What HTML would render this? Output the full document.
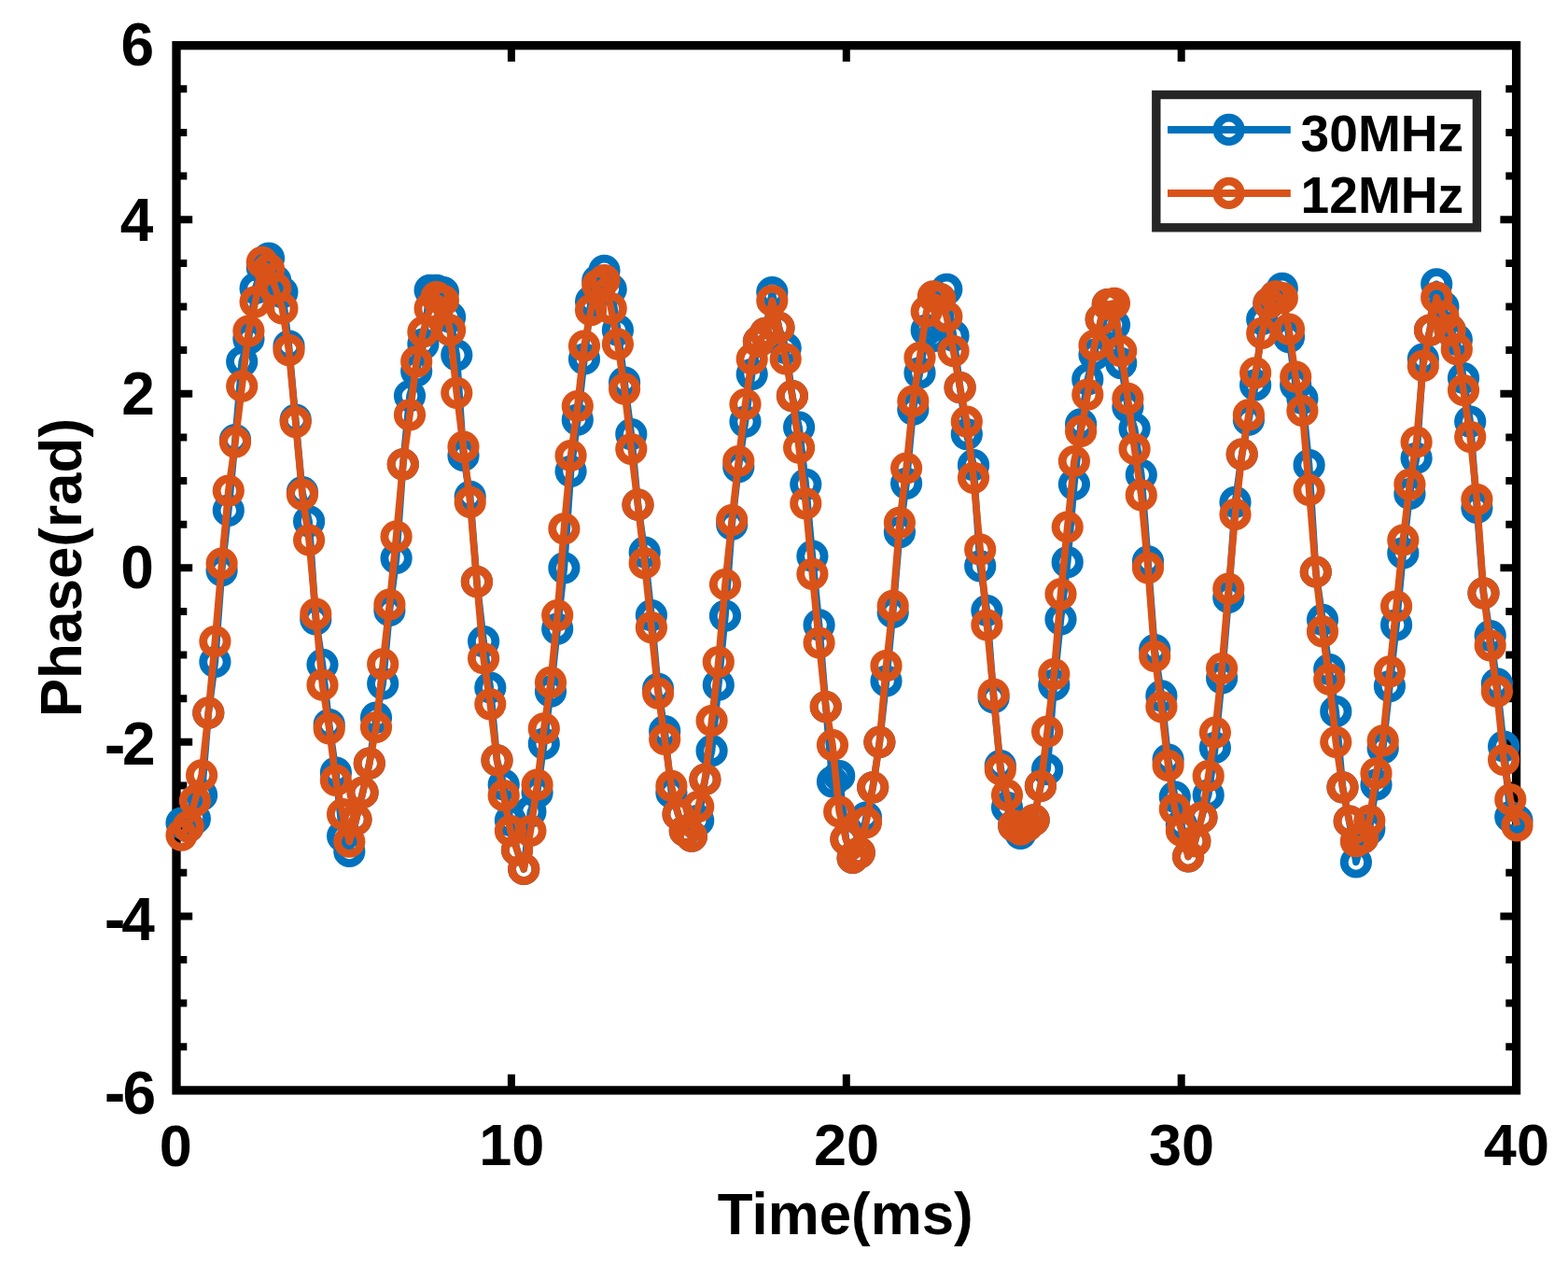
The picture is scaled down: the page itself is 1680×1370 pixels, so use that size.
<!DOCTYPE html>
<html lang="en"><head><meta charset="utf-8"><title>Phase vs Time</title>
<style>
html,body{margin:0;padding:0;background:#fff;}
body{width:1680px;height:1370px;overflow:hidden;}
svg{display:block;}
text{font-family:"Liberation Sans",sans-serif;font-weight:bold;fill:#000;}
.tk{font-size:64px;}
.hy{font-size:68px;}
.xt{font-size:63px;}
.lb{font-size:63px;}
.lg{font-size:56.3px;}
</style></head>
<body>
<svg width="1680" height="1370" viewBox="0 0 1680 1370">
<g>
<rect x="0" y="0" width="1680" height="1370" fill="#fff"/>
<g stroke="#000" fill="none" stroke-linecap="butt">
<rect x="189.0" y="48.7" width="1435.6" height="1119.2" stroke-width="9.3" stroke-linejoin="miter"/>
<path stroke-width="8.0" d="M189.0 1121.3h11.3M1624.6 1121.3h-11.3M189.0 1074.6h11.3M1624.6 1074.6h-11.3M189.0 1028.0h11.3M1624.6 1028.0h-11.3M189.0 981.4h17.2M1624.6 981.4h-17.2M189.0 934.7h11.3M1624.6 934.7h-11.3M189.0 888.1h11.3M1624.6 888.1h-11.3M189.0 841.5h11.3M1624.6 841.5h-11.3M189.0 794.8h17.2M1624.6 794.8h-17.2M189.0 748.2h11.3M1624.6 748.2h-11.3M189.0 701.6h11.3M1624.6 701.6h-11.3M189.0 654.9h11.3M1624.6 654.9h-11.3M189.0 608.3h17.2M1624.6 608.3h-17.2M189.0 561.7h11.3M1624.6 561.7h-11.3M189.0 515.0h11.3M1624.6 515.0h-11.3M189.0 468.4h11.3M1624.6 468.4h-11.3M189.0 421.8h17.2M1624.6 421.8h-17.2M189.0 375.1h11.3M1624.6 375.1h-11.3M189.0 328.5h11.3M1624.6 328.5h-11.3M189.0 281.9h11.3M1624.6 281.9h-11.3M189.0 235.2h17.2M1624.6 235.2h-17.2M189.0 188.6h11.3M1624.6 188.6h-11.3M189.0 142.0h11.3M1624.6 142.0h-11.3M189.0 95.3h11.3M1624.6 95.3h-11.3M547.9 1167.9v-17.2M547.9 48.7v17.2M906.8 1167.9v-17.2M906.8 48.7v17.2M1265.7 1167.9v-17.2M1265.7 48.7v17.2"/>
</g>
<g stroke="#0072BD" fill="none">
<polyline stroke-width="7.6" stroke-linejoin="round" points="194.5,881.6 201.7,885.3 208.9,876.9 216.1,851.7 223.3,763.6 230.4,709.0 237.6,611.1 244.8,546.7 252.0,471.2 259.2,387.3 266.4,363.0 273.6,308.9 280.8,286.5 288.0,276.7 295.2,300.5 302.4,313.1 309.5,370.5 316.7,449.7 323.9,527.2 331.1,558.4 338.3,663.3 345.5,711.8 352.7,776.2 359.9,827.5 367.1,895.6 374.3,911.9 381.5,877.8 388.6,848.9 395.8,817.7 403.0,768.7 410.2,732.3 417.4,654.0 424.6,598.0 431.8,497.3 439.0,424.1 446.2,397.5 453.4,368.6 460.6,310.8 467.7,310.8 474.9,313.1 482.1,339.7 489.3,380.3 496.5,488.0 503.7,531.8 510.9,623.2 518.1,687.1 525.3,736.5 532.5,814.4 539.7,840.5 546.9,878.8 554.0,910.5 561.2,931.0 568.4,869.4 575.6,848.9 582.8,796.7 590.0,740.7 597.2,673.6 604.4,608.3 611.6,504.8 618.8,449.7 626.0,384.5 633.1,322.9 640.3,300.5 647.5,289.8 654.7,309.8 661.9,353.7 669.1,409.6 676.3,465.1 683.5,540.7 690.7,591.5 697.9,659.1 705.1,737.9 712.2,783.2 719.4,848.9 726.6,872.2 733.8,890.0 741.0,895.6 748.2,878.8 755.4,834.9 762.6,804.2 769.8,733.7 777.0,659.6 784.2,561.7 791.3,500.1 798.5,451.6 805.7,400.8 812.9,365.8 820.1,356.9 827.3,313.1 834.5,350.9 841.7,372.8 848.9,424.1 856.1,457.7 863.3,518.8 870.4,595.7 877.6,669.4 884.8,757.1 892.0,837.3 899.2,831.2 906.4,898.8 913.6,918.9 920.8,913.3 928.0,875.5 935.2,843.3 942.4,794.8 949.5,729.5 956.7,655.9 963.9,570.1 971.1,517.8 978.3,438.6 985.5,399.4 992.7,353.7 999.9,360.2 1007.1,320.1 1014.3,309.8 1021.5,359.7 1028.6,415.2 1035.8,465.1 1043.0,498.2 1050.2,606.4 1057.4,654.0 1064.6,747.3 1071.8,820.0 1079.0,864.8 1086.2,884.4 1093.4,892.8 1100.6,884.4 1107.7,878.3 1114.9,841.9 1122.1,824.2 1129.3,733.7 1136.5,663.3 1143.7,602.2 1150.9,518.8 1158.1,454.4 1165.3,406.4 1172.5,379.8 1179.7,342.0 1186.8,326.2 1194.0,348.1 1201.2,389.1 1208.4,435.8 1215.6,459.1 1222.8,508.5 1230.0,601.3 1237.2,696.0 1244.4,745.4 1251.6,813.5 1258.8,853.6 1265.9,883.4 1273.1,917.5 1280.3,901.2 1287.5,875.5 1294.7,851.7 1301.9,800.9 1309.1,726.3 1316.3,640.0 1323.5,537.9 1330.7,486.6 1337.9,449.7 1345.1,412.4 1352.2,342.0 1359.4,324.8 1366.6,317.3 1373.8,308.9 1381.0,361.1 1388.2,412.4 1395.4,426.9 1402.6,498.2 1409.8,612.5 1417.0,663.8 1424.2,717.0 1431.3,762.2 1438.5,843.3 1445.7,879.7 1452.9,923.5 1460.1,897.4 1467.3,888.1 1474.5,840.5 1481.7,801.4 1488.9,735.1 1496.1,669.4 1503.3,592.4 1510.4,529.0 1517.6,490.8 1524.8,384.5 1532.0,353.7 1539.2,304.3 1546.4,328.5 1553.6,353.7 1560.8,363.9 1568.0,405.0 1575.2,451.6 1582.4,543.9 1589.5,635.3 1596.7,681.0 1603.9,732.3 1611.1,799.5 1618.3,875.0 1625.5,878.8"/>
<g stroke-width="8.8">
<circle cx="194.5" cy="881.6" r="12.7"/><circle cx="201.7" cy="885.3" r="12.7"/><circle cx="208.9" cy="876.9" r="12.7"/><circle cx="216.1" cy="851.7" r="12.7"/><circle cx="223.3" cy="763.6" r="12.7"/><circle cx="230.4" cy="709.0" r="12.7"/><circle cx="237.6" cy="611.1" r="12.7"/><circle cx="244.8" cy="546.7" r="12.7"/><circle cx="252.0" cy="471.2" r="12.7"/><circle cx="259.2" cy="387.3" r="12.7"/><circle cx="266.4" cy="363.0" r="12.7"/><circle cx="273.6" cy="308.9" r="12.7"/><circle cx="280.8" cy="286.5" r="12.7"/><circle cx="288.0" cy="276.7" r="12.7"/><circle cx="295.2" cy="300.5" r="12.7"/><circle cx="302.4" cy="313.1" r="12.7"/><circle cx="309.5" cy="370.5" r="12.7"/><circle cx="316.7" cy="449.7" r="12.7"/><circle cx="323.9" cy="527.2" r="12.7"/><circle cx="331.1" cy="558.4" r="12.7"/><circle cx="338.3" cy="663.3" r="12.7"/><circle cx="345.5" cy="711.8" r="12.7"/><circle cx="352.7" cy="776.2" r="12.7"/><circle cx="359.9" cy="827.5" r="12.7"/><circle cx="367.1" cy="895.6" r="12.7"/><circle cx="374.3" cy="911.9" r="12.7"/><circle cx="381.5" cy="877.8" r="12.7"/><circle cx="388.6" cy="848.9" r="12.7"/><circle cx="395.8" cy="817.7" r="12.7"/><circle cx="403.0" cy="768.7" r="12.7"/><circle cx="410.2" cy="732.3" r="12.7"/><circle cx="417.4" cy="654.0" r="12.7"/><circle cx="424.6" cy="598.0" r="12.7"/><circle cx="431.8" cy="497.3" r="12.7"/><circle cx="439.0" cy="424.1" r="12.7"/><circle cx="446.2" cy="397.5" r="12.7"/><circle cx="453.4" cy="368.6" r="12.7"/><circle cx="460.6" cy="310.8" r="12.7"/><circle cx="467.7" cy="310.8" r="12.7"/><circle cx="474.9" cy="313.1" r="12.7"/><circle cx="482.1" cy="339.7" r="12.7"/><circle cx="489.3" cy="380.3" r="12.7"/><circle cx="496.5" cy="488.0" r="12.7"/><circle cx="503.7" cy="531.8" r="12.7"/><circle cx="510.9" cy="623.2" r="12.7"/><circle cx="518.1" cy="687.1" r="12.7"/><circle cx="525.3" cy="736.5" r="12.7"/><circle cx="532.5" cy="814.4" r="12.7"/><circle cx="539.7" cy="840.5" r="12.7"/><circle cx="546.9" cy="878.8" r="12.7"/><circle cx="554.0" cy="910.5" r="12.7"/><circle cx="561.2" cy="931.0" r="12.7"/><circle cx="568.4" cy="869.4" r="12.7"/><circle cx="575.6" cy="848.9" r="12.7"/><circle cx="582.8" cy="796.7" r="12.7"/><circle cx="590.0" cy="740.7" r="12.7"/><circle cx="597.2" cy="673.6" r="12.7"/><circle cx="604.4" cy="608.3" r="12.7"/><circle cx="611.6" cy="504.8" r="12.7"/><circle cx="618.8" cy="449.7" r="12.7"/><circle cx="626.0" cy="384.5" r="12.7"/><circle cx="633.1" cy="322.9" r="12.7"/><circle cx="640.3" cy="300.5" r="12.7"/><circle cx="647.5" cy="289.8" r="12.7"/><circle cx="654.7" cy="309.8" r="12.7"/><circle cx="661.9" cy="353.7" r="12.7"/><circle cx="669.1" cy="409.6" r="12.7"/><circle cx="676.3" cy="465.1" r="12.7"/><circle cx="683.5" cy="540.7" r="12.7"/><circle cx="690.7" cy="591.5" r="12.7"/><circle cx="697.9" cy="659.1" r="12.7"/><circle cx="705.1" cy="737.9" r="12.7"/><circle cx="712.2" cy="783.2" r="12.7"/><circle cx="719.4" cy="848.9" r="12.7"/><circle cx="726.6" cy="872.2" r="12.7"/><circle cx="733.8" cy="890.0" r="12.7"/><circle cx="741.0" cy="895.6" r="12.7"/><circle cx="748.2" cy="878.8" r="12.7"/><circle cx="755.4" cy="834.9" r="12.7"/><circle cx="762.6" cy="804.2" r="12.7"/><circle cx="769.8" cy="733.7" r="12.7"/><circle cx="777.0" cy="659.6" r="12.7"/><circle cx="784.2" cy="561.7" r="12.7"/><circle cx="791.3" cy="500.1" r="12.7"/><circle cx="798.5" cy="451.6" r="12.7"/><circle cx="805.7" cy="400.8" r="12.7"/><circle cx="812.9" cy="365.8" r="12.7"/><circle cx="820.1" cy="356.9" r="12.7"/><circle cx="827.3" cy="313.1" r="12.7"/><circle cx="834.5" cy="350.9" r="12.7"/><circle cx="841.7" cy="372.8" r="12.7"/><circle cx="848.9" cy="424.1" r="12.7"/><circle cx="856.1" cy="457.7" r="12.7"/><circle cx="863.3" cy="518.8" r="12.7"/><circle cx="870.4" cy="595.7" r="12.7"/><circle cx="877.6" cy="669.4" r="12.7"/><circle cx="884.8" cy="757.1" r="12.7"/><circle cx="892.0" cy="837.3" r="12.7"/><circle cx="899.2" cy="831.2" r="12.7"/><circle cx="906.4" cy="898.8" r="12.7"/><circle cx="913.6" cy="918.9" r="12.7"/><circle cx="920.8" cy="913.3" r="12.7"/><circle cx="928.0" cy="875.5" r="12.7"/><circle cx="935.2" cy="843.3" r="12.7"/><circle cx="942.4" cy="794.8" r="12.7"/><circle cx="949.5" cy="729.5" r="12.7"/><circle cx="956.7" cy="655.9" r="12.7"/><circle cx="963.9" cy="570.1" r="12.7"/><circle cx="971.1" cy="517.8" r="12.7"/><circle cx="978.3" cy="438.6" r="12.7"/><circle cx="985.5" cy="399.4" r="12.7"/><circle cx="992.7" cy="353.7" r="12.7"/><circle cx="999.9" cy="360.2" r="12.7"/><circle cx="1007.1" cy="320.1" r="12.7"/><circle cx="1014.3" cy="309.8" r="12.7"/><circle cx="1021.5" cy="359.7" r="12.7"/><circle cx="1028.6" cy="415.2" r="12.7"/><circle cx="1035.8" cy="465.1" r="12.7"/><circle cx="1043.0" cy="498.2" r="12.7"/><circle cx="1050.2" cy="606.4" r="12.7"/><circle cx="1057.4" cy="654.0" r="12.7"/><circle cx="1064.6" cy="747.3" r="12.7"/><circle cx="1071.8" cy="820.0" r="12.7"/><circle cx="1079.0" cy="864.8" r="12.7"/><circle cx="1086.2" cy="884.4" r="12.7"/><circle cx="1093.4" cy="892.8" r="12.7"/><circle cx="1100.6" cy="884.4" r="12.7"/><circle cx="1107.7" cy="878.3" r="12.7"/><circle cx="1114.9" cy="841.9" r="12.7"/><circle cx="1122.1" cy="824.2" r="12.7"/><circle cx="1129.3" cy="733.7" r="12.7"/><circle cx="1136.5" cy="663.3" r="12.7"/><circle cx="1143.7" cy="602.2" r="12.7"/><circle cx="1150.9" cy="518.8" r="12.7"/><circle cx="1158.1" cy="454.4" r="12.7"/><circle cx="1165.3" cy="406.4" r="12.7"/><circle cx="1172.5" cy="379.8" r="12.7"/><circle cx="1179.7" cy="342.0" r="12.7"/><circle cx="1186.8" cy="326.2" r="12.7"/><circle cx="1194.0" cy="348.1" r="12.7"/><circle cx="1201.2" cy="389.1" r="12.7"/><circle cx="1208.4" cy="435.8" r="12.7"/><circle cx="1215.6" cy="459.1" r="12.7"/><circle cx="1222.8" cy="508.5" r="12.7"/><circle cx="1230.0" cy="601.3" r="12.7"/><circle cx="1237.2" cy="696.0" r="12.7"/><circle cx="1244.4" cy="745.4" r="12.7"/><circle cx="1251.6" cy="813.5" r="12.7"/><circle cx="1258.8" cy="853.6" r="12.7"/><circle cx="1265.9" cy="883.4" r="12.7"/><circle cx="1273.1" cy="917.5" r="12.7"/><circle cx="1280.3" cy="901.2" r="12.7"/><circle cx="1287.5" cy="875.5" r="12.7"/><circle cx="1294.7" cy="851.7" r="12.7"/><circle cx="1301.9" cy="800.9" r="12.7"/><circle cx="1309.1" cy="726.3" r="12.7"/><circle cx="1316.3" cy="640.0" r="12.7"/><circle cx="1323.5" cy="537.9" r="12.7"/><circle cx="1330.7" cy="486.6" r="12.7"/><circle cx="1337.9" cy="449.7" r="12.7"/><circle cx="1345.1" cy="412.4" r="12.7"/><circle cx="1352.2" cy="342.0" r="12.7"/><circle cx="1359.4" cy="324.8" r="12.7"/><circle cx="1366.6" cy="317.3" r="12.7"/><circle cx="1373.8" cy="308.9" r="12.7"/><circle cx="1381.0" cy="361.1" r="12.7"/><circle cx="1388.2" cy="412.4" r="12.7"/><circle cx="1395.4" cy="426.9" r="12.7"/><circle cx="1402.6" cy="498.2" r="12.7"/><circle cx="1409.8" cy="612.5" r="12.7"/><circle cx="1417.0" cy="663.8" r="12.7"/><circle cx="1424.2" cy="717.0" r="12.7"/><circle cx="1431.3" cy="762.2" r="12.7"/><circle cx="1438.5" cy="843.3" r="12.7"/><circle cx="1445.7" cy="879.7" r="12.7"/><circle cx="1452.9" cy="923.5" r="12.7"/><circle cx="1460.1" cy="897.4" r="12.7"/><circle cx="1467.3" cy="888.1" r="12.7"/><circle cx="1474.5" cy="840.5" r="12.7"/><circle cx="1481.7" cy="801.4" r="12.7"/><circle cx="1488.9" cy="735.1" r="12.7"/><circle cx="1496.1" cy="669.4" r="12.7"/><circle cx="1503.3" cy="592.4" r="12.7"/><circle cx="1510.4" cy="529.0" r="12.7"/><circle cx="1517.6" cy="490.8" r="12.7"/><circle cx="1524.8" cy="384.5" r="12.7"/><circle cx="1532.0" cy="353.7" r="12.7"/><circle cx="1539.2" cy="304.3" r="12.7"/><circle cx="1546.4" cy="328.5" r="12.7"/><circle cx="1553.6" cy="353.7" r="12.7"/><circle cx="1560.8" cy="363.9" r="12.7"/><circle cx="1568.0" cy="405.0" r="12.7"/><circle cx="1575.2" cy="451.6" r="12.7"/><circle cx="1582.4" cy="543.9" r="12.7"/><circle cx="1589.5" cy="635.3" r="12.7"/><circle cx="1596.7" cy="681.0" r="12.7"/><circle cx="1603.9" cy="732.3" r="12.7"/><circle cx="1611.1" cy="799.5" r="12.7"/><circle cx="1618.3" cy="875.0" r="12.7"/><circle cx="1625.5" cy="878.8" r="12.7"/>
</g></g>
<g stroke="#D95319" fill="none">
<polyline stroke-width="7.6" stroke-linejoin="round" points="194.5,894.6 201.7,885.3 208.9,857.8 216.1,830.3 223.3,763.6 230.4,687.1 237.6,603.6 244.8,525.6 252.0,473.6 259.2,413.7 266.4,354.6 273.6,323.3 280.8,280.9 288.0,288.4 295.2,308.9 302.4,330.4 309.5,375.1 316.7,452.1 323.9,529.7 331.1,578.5 338.3,657.7 345.5,733.7 352.7,780.4 359.9,835.9 367.1,872.2 374.3,901.6 381.5,877.8 388.6,848.9 395.8,817.7 403.0,779.0 410.2,711.4 417.4,647.5 424.6,574.7 431.8,497.3 439.0,444.4 446.2,387.3 453.4,355.5 460.6,330.4 467.7,318.2 474.9,322.0 482.1,353.7 489.3,420.8 496.5,478.7 503.7,537.9 510.9,623.2 518.1,705.3 525.3,754.3 532.5,814.4 539.7,852.2 546.9,890.0 554.0,910.5 561.2,931.0 568.4,890.0 575.6,840.5 582.8,780.4 590.0,730.9 597.2,659.1 604.4,566.3 611.6,488.0 618.8,435.0 626.0,370.5 633.1,332.2 640.3,305.6 647.5,300.1 654.7,330.4 661.9,368.6 669.1,416.6 676.3,481.0 683.5,540.7 690.7,603.2 697.9,672.2 705.1,742.6 712.2,792.0 719.4,841.9 726.6,872.2 733.8,890.0 741.0,895.6 748.2,863.9 755.4,834.9 762.6,772.0 769.8,709.0 777.0,626.0 784.2,557.0 791.3,494.0 798.5,433.0 805.7,384.5 812.9,365.8 820.1,356.9 827.3,322.0 834.5,350.9 841.7,384.5 848.9,424.1 856.1,479.6 863.3,539.3 870.4,614.8 877.6,688.5 884.8,757.1 892.0,798.1 899.2,869.4 906.4,898.8 913.6,918.9 920.8,913.3 928.0,881.1 935.2,843.3 942.4,794.8 949.5,713.2 956.7,648.9 963.9,559.8 971.1,501.5 978.3,429.7 985.5,383.1 992.7,333.6 999.9,317.3 1007.1,320.1 1014.3,339.2 1021.5,376.1 1028.6,415.2 1035.8,451.6 1043.0,511.8 1050.2,588.7 1057.4,669.4 1064.6,743.5 1071.8,824.2 1079.0,851.7 1086.2,884.4 1093.4,888.6 1100.6,884.4 1107.7,878.3 1114.9,841.9 1122.1,783.6 1129.3,722.1 1136.5,636.3 1143.7,564.5 1150.9,494.0 1158.1,461.9 1165.3,422.7 1172.5,370.0 1179.7,342.0 1186.8,326.2 1194.0,324.8 1201.2,376.1 1208.4,426.9 1215.6,481.0 1222.8,530.4 1230.0,608.3 1237.2,703.0 1244.4,757.1 1251.6,820.0 1258.8,866.6 1265.9,890.0 1273.1,917.5 1280.3,901.2 1287.5,875.5 1294.7,831.2 1301.9,784.6 1309.1,716.0 1316.3,630.7 1323.5,550.9 1330.7,486.6 1337.9,444.4 1345.1,399.4 1352.2,356.9 1359.4,324.8 1366.6,317.3 1373.8,319.2 1381.0,352.7 1388.2,403.6 1395.4,440.0 1402.6,524.8 1409.8,612.5 1417.0,676.4 1424.2,727.7 1431.3,794.8 1438.5,843.3 1445.7,879.7 1452.9,901.2 1460.1,897.4 1467.3,878.8 1474.5,828.4 1481.7,793.4 1488.9,719.3 1496.1,649.3 1503.3,578.5 1510.4,518.8 1517.6,473.5 1524.8,391.9 1532.0,353.7 1539.2,318.7 1546.4,339.2 1553.6,353.7 1560.8,374.2 1568.0,418.0 1575.2,467.9 1582.4,535.1 1589.5,635.3 1596.7,691.3 1603.9,740.7 1611.1,814.0 1618.3,856.4 1625.5,884.4"/>
<g stroke-width="8.8">
<circle cx="194.5" cy="894.6" r="12.7"/><circle cx="201.7" cy="885.3" r="12.7"/><circle cx="208.9" cy="857.8" r="12.7"/><circle cx="216.1" cy="830.3" r="12.7"/><circle cx="223.3" cy="763.6" r="12.7"/><circle cx="230.4" cy="687.1" r="12.7"/><circle cx="237.6" cy="603.6" r="12.7"/><circle cx="244.8" cy="525.6" r="12.7"/><circle cx="252.0" cy="473.6" r="12.7"/><circle cx="259.2" cy="413.7" r="12.7"/><circle cx="266.4" cy="354.6" r="12.7"/><circle cx="273.6" cy="323.3" r="12.7"/><circle cx="280.8" cy="280.9" r="12.7"/><circle cx="288.0" cy="288.4" r="12.7"/><circle cx="295.2" cy="308.9" r="12.7"/><circle cx="302.4" cy="330.4" r="12.7"/><circle cx="309.5" cy="375.1" r="12.7"/><circle cx="316.7" cy="452.1" r="12.7"/><circle cx="323.9" cy="529.7" r="12.7"/><circle cx="331.1" cy="578.5" r="12.7"/><circle cx="338.3" cy="657.7" r="12.7"/><circle cx="345.5" cy="733.7" r="12.7"/><circle cx="352.7" cy="780.4" r="12.7"/><circle cx="359.9" cy="835.9" r="12.7"/><circle cx="367.1" cy="872.2" r="12.7"/><circle cx="374.3" cy="901.6" r="12.7"/><circle cx="381.5" cy="877.8" r="12.7"/><circle cx="388.6" cy="848.9" r="12.7"/><circle cx="395.8" cy="817.7" r="12.7"/><circle cx="403.0" cy="779.0" r="12.7"/><circle cx="410.2" cy="711.4" r="12.7"/><circle cx="417.4" cy="647.5" r="12.7"/><circle cx="424.6" cy="574.7" r="12.7"/><circle cx="431.8" cy="497.3" r="12.7"/><circle cx="439.0" cy="444.4" r="12.7"/><circle cx="446.2" cy="387.3" r="12.7"/><circle cx="453.4" cy="355.5" r="12.7"/><circle cx="460.6" cy="330.4" r="12.7"/><circle cx="467.7" cy="318.2" r="12.7"/><circle cx="474.9" cy="322.0" r="12.7"/><circle cx="482.1" cy="353.7" r="12.7"/><circle cx="489.3" cy="420.8" r="12.7"/><circle cx="496.5" cy="478.7" r="12.7"/><circle cx="503.7" cy="537.9" r="12.7"/><circle cx="510.9" cy="623.2" r="12.7"/><circle cx="518.1" cy="705.3" r="12.7"/><circle cx="525.3" cy="754.3" r="12.7"/><circle cx="532.5" cy="814.4" r="12.7"/><circle cx="539.7" cy="852.2" r="12.7"/><circle cx="546.9" cy="890.0" r="12.7"/><circle cx="554.0" cy="910.5" r="12.7"/><circle cx="561.2" cy="931.0" r="12.7"/><circle cx="568.4" cy="890.0" r="12.7"/><circle cx="575.6" cy="840.5" r="12.7"/><circle cx="582.8" cy="780.4" r="12.7"/><circle cx="590.0" cy="730.9" r="12.7"/><circle cx="597.2" cy="659.1" r="12.7"/><circle cx="604.4" cy="566.3" r="12.7"/><circle cx="611.6" cy="488.0" r="12.7"/><circle cx="618.8" cy="435.0" r="12.7"/><circle cx="626.0" cy="370.5" r="12.7"/><circle cx="633.1" cy="332.2" r="12.7"/><circle cx="640.3" cy="305.6" r="12.7"/><circle cx="647.5" cy="300.1" r="12.7"/><circle cx="654.7" cy="330.4" r="12.7"/><circle cx="661.9" cy="368.6" r="12.7"/><circle cx="669.1" cy="416.6" r="12.7"/><circle cx="676.3" cy="481.0" r="12.7"/><circle cx="683.5" cy="540.7" r="12.7"/><circle cx="690.7" cy="603.2" r="12.7"/><circle cx="697.9" cy="672.2" r="12.7"/><circle cx="705.1" cy="742.6" r="12.7"/><circle cx="712.2" cy="792.0" r="12.7"/><circle cx="719.4" cy="841.9" r="12.7"/><circle cx="726.6" cy="872.2" r="12.7"/><circle cx="733.8" cy="890.0" r="12.7"/><circle cx="741.0" cy="895.6" r="12.7"/><circle cx="748.2" cy="863.9" r="12.7"/><circle cx="755.4" cy="834.9" r="12.7"/><circle cx="762.6" cy="772.0" r="12.7"/><circle cx="769.8" cy="709.0" r="12.7"/><circle cx="777.0" cy="626.0" r="12.7"/><circle cx="784.2" cy="557.0" r="12.7"/><circle cx="791.3" cy="494.0" r="12.7"/><circle cx="798.5" cy="433.0" r="12.7"/><circle cx="805.7" cy="384.5" r="12.7"/><circle cx="812.9" cy="365.8" r="12.7"/><circle cx="820.1" cy="356.9" r="12.7"/><circle cx="827.3" cy="322.0" r="12.7"/><circle cx="834.5" cy="350.9" r="12.7"/><circle cx="841.7" cy="384.5" r="12.7"/><circle cx="848.9" cy="424.1" r="12.7"/><circle cx="856.1" cy="479.6" r="12.7"/><circle cx="863.3" cy="539.3" r="12.7"/><circle cx="870.4" cy="614.8" r="12.7"/><circle cx="877.6" cy="688.5" r="12.7"/><circle cx="884.8" cy="757.1" r="12.7"/><circle cx="892.0" cy="798.1" r="12.7"/><circle cx="899.2" cy="869.4" r="12.7"/><circle cx="906.4" cy="898.8" r="12.7"/><circle cx="913.6" cy="918.9" r="12.7"/><circle cx="920.8" cy="913.3" r="12.7"/><circle cx="928.0" cy="881.1" r="12.7"/><circle cx="935.2" cy="843.3" r="12.7"/><circle cx="942.4" cy="794.8" r="12.7"/><circle cx="949.5" cy="713.2" r="12.7"/><circle cx="956.7" cy="648.9" r="12.7"/><circle cx="963.9" cy="559.8" r="12.7"/><circle cx="971.1" cy="501.5" r="12.7"/><circle cx="978.3" cy="429.7" r="12.7"/><circle cx="985.5" cy="383.1" r="12.7"/><circle cx="992.7" cy="333.6" r="12.7"/><circle cx="999.9" cy="317.3" r="12.7"/><circle cx="1007.1" cy="320.1" r="12.7"/><circle cx="1014.3" cy="339.2" r="12.7"/><circle cx="1021.5" cy="376.1" r="12.7"/><circle cx="1028.6" cy="415.2" r="12.7"/><circle cx="1035.8" cy="451.6" r="12.7"/><circle cx="1043.0" cy="511.8" r="12.7"/><circle cx="1050.2" cy="588.7" r="12.7"/><circle cx="1057.4" cy="669.4" r="12.7"/><circle cx="1064.6" cy="743.5" r="12.7"/><circle cx="1071.8" cy="824.2" r="12.7"/><circle cx="1079.0" cy="851.7" r="12.7"/><circle cx="1086.2" cy="884.4" r="12.7"/><circle cx="1093.4" cy="888.6" r="12.7"/><circle cx="1100.6" cy="884.4" r="12.7"/><circle cx="1107.7" cy="878.3" r="12.7"/><circle cx="1114.9" cy="841.9" r="12.7"/><circle cx="1122.1" cy="783.6" r="12.7"/><circle cx="1129.3" cy="722.1" r="12.7"/><circle cx="1136.5" cy="636.3" r="12.7"/><circle cx="1143.7" cy="564.5" r="12.7"/><circle cx="1150.9" cy="494.0" r="12.7"/><circle cx="1158.1" cy="461.9" r="12.7"/><circle cx="1165.3" cy="422.7" r="12.7"/><circle cx="1172.5" cy="370.0" r="12.7"/><circle cx="1179.7" cy="342.0" r="12.7"/><circle cx="1186.8" cy="326.2" r="12.7"/><circle cx="1194.0" cy="324.8" r="12.7"/><circle cx="1201.2" cy="376.1" r="12.7"/><circle cx="1208.4" cy="426.9" r="12.7"/><circle cx="1215.6" cy="481.0" r="12.7"/><circle cx="1222.8" cy="530.4" r="12.7"/><circle cx="1230.0" cy="608.3" r="12.7"/><circle cx="1237.2" cy="703.0" r="12.7"/><circle cx="1244.4" cy="757.1" r="12.7"/><circle cx="1251.6" cy="820.0" r="12.7"/><circle cx="1258.8" cy="866.6" r="12.7"/><circle cx="1265.9" cy="890.0" r="12.7"/><circle cx="1273.1" cy="917.5" r="12.7"/><circle cx="1280.3" cy="901.2" r="12.7"/><circle cx="1287.5" cy="875.5" r="12.7"/><circle cx="1294.7" cy="831.2" r="12.7"/><circle cx="1301.9" cy="784.6" r="12.7"/><circle cx="1309.1" cy="716.0" r="12.7"/><circle cx="1316.3" cy="630.7" r="12.7"/><circle cx="1323.5" cy="550.9" r="12.7"/><circle cx="1330.7" cy="486.6" r="12.7"/><circle cx="1337.9" cy="444.4" r="12.7"/><circle cx="1345.1" cy="399.4" r="12.7"/><circle cx="1352.2" cy="356.9" r="12.7"/><circle cx="1359.4" cy="324.8" r="12.7"/><circle cx="1366.6" cy="317.3" r="12.7"/><circle cx="1373.8" cy="319.2" r="12.7"/><circle cx="1381.0" cy="352.7" r="12.7"/><circle cx="1388.2" cy="403.6" r="12.7"/><circle cx="1395.4" cy="440.0" r="12.7"/><circle cx="1402.6" cy="524.8" r="12.7"/><circle cx="1409.8" cy="612.5" r="12.7"/><circle cx="1417.0" cy="676.4" r="12.7"/><circle cx="1424.2" cy="727.7" r="12.7"/><circle cx="1431.3" cy="794.8" r="12.7"/><circle cx="1438.5" cy="843.3" r="12.7"/><circle cx="1445.7" cy="879.7" r="12.7"/><circle cx="1452.9" cy="901.2" r="12.7"/><circle cx="1460.1" cy="897.4" r="12.7"/><circle cx="1467.3" cy="878.8" r="12.7"/><circle cx="1474.5" cy="828.4" r="12.7"/><circle cx="1481.7" cy="793.4" r="12.7"/><circle cx="1488.9" cy="719.3" r="12.7"/><circle cx="1496.1" cy="649.3" r="12.7"/><circle cx="1503.3" cy="578.5" r="12.7"/><circle cx="1510.4" cy="518.8" r="12.7"/><circle cx="1517.6" cy="473.5" r="12.7"/><circle cx="1524.8" cy="391.9" r="12.7"/><circle cx="1532.0" cy="353.7" r="12.7"/><circle cx="1539.2" cy="318.7" r="12.7"/><circle cx="1546.4" cy="339.2" r="12.7"/><circle cx="1553.6" cy="353.7" r="12.7"/><circle cx="1560.8" cy="374.2" r="12.7"/><circle cx="1568.0" cy="418.0" r="12.7"/><circle cx="1575.2" cy="467.9" r="12.7"/><circle cx="1582.4" cy="535.1" r="12.7"/><circle cx="1589.5" cy="635.3" r="12.7"/><circle cx="1596.7" cy="691.3" r="12.7"/><circle cx="1603.9" cy="740.7" r="12.7"/><circle cx="1611.1" cy="814.0" r="12.7"/><circle cx="1618.3" cy="856.4" r="12.7"/><circle cx="1625.5" cy="884.4" r="12.7"/>
</g></g>
<g class="tk" text-anchor="end">
<text x="165.2" y="69.7">6</text><text x="164.3" y="257.9">4</text><text x="165.8" y="444.2">2</text><text x="164.8" y="629.7">0</text><text><tspan class="hy" text-anchor="middle" x="123.0" y="820.8">-</tspan><tspan x="166.5" y="819.0">2</tspan></text><text><tspan class="hy" text-anchor="middle" x="123.2" y="1008.0">-</tspan><tspan x="165.8" y="1006.7">4</tspan></text><text><tspan class="hy" text-anchor="middle" x="123.2" y="1194.2">-</tspan><tspan x="167.0" y="1192.9">6</tspan></text>
</g>
<g class="xt" text-anchor="middle">
<text x="188.2" y="1248.8">0</text><text x="548.2" y="1248.3">10</text><text x="907.1" y="1248.3">20</text><text x="1266.0" y="1248.3">30</text><text x="1624.9" y="1248.3">40</text>
</g>
<text class="lb" text-anchor="middle" transform="translate(905.7,1322.2) scale(0.982,1)">Time(ms)</text>
<text class="lb" text-anchor="middle" transform="translate(86.5,608.1) rotate(-90) scale(0.984,1)">Phase(rad)</text>
<rect x="1238.8" y="101.5" width="343.6" height="142.3" fill="#fff" stroke="#262626" stroke-width="9.4"/>
<g stroke="#0072BD" fill="none"><path stroke-width="8.0" d="M1251 138.9H1382.8"/><circle cx="1316.6" cy="138.9" r="12.7" stroke-width="8.8"/></g>
<text class="lg" transform="translate(1393.6,161.7) scale(0.979,1)">30MHz</text>
<g stroke="#D95319" fill="none"><path stroke-width="8.0" d="M1251 206.9H1382.8"/><circle cx="1316.6" cy="206.9" r="12.7" stroke-width="8.8"/></g>
<text class="lg" transform="translate(1393.6,227.9) scale(0.979,1)">12MHz</text>
</g>
</svg>
</body></html>
